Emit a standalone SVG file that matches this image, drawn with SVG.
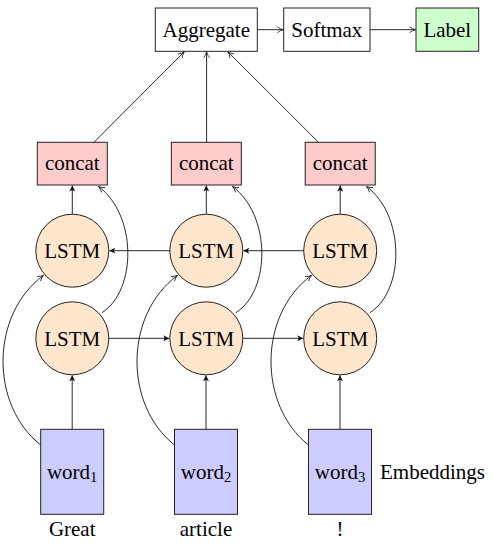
<svg xmlns="http://www.w3.org/2000/svg" width="493" height="545" viewBox="0 0 493 545">
<defs>
<style>
text{font-family:"Liberation Serif","Times New Roman",serif;font-size:21px;fill:#000}
.box{stroke:#222;stroke-width:1}
.ln{fill:none;stroke:#111;stroke-width:0.9}
</style>
<marker id="tri" viewBox="0 0 10 10" refX="10" refY="5" markerWidth="6" markerHeight="6" markerUnits="userSpaceOnUse" orient="auto">
<path d="M0,0 L10,5 L0,10 L2.5,5 Z" fill="#111"/>
</marker>
<marker id="opn" viewBox="0 0 10 10" refX="9.5" refY="5" markerWidth="7" markerHeight="7" markerUnits="userSpaceOnUse" orient="auto">
<path d="M1,0.8 Q5,4 9.5,5 Q5,6 1,9.2" fill="none" stroke="#111" stroke-width="1.1"/>
</marker>
</defs>
<rect width="493" height="545" fill="#fff"/>

<g id="aggregate"><rect class="box" x="155.3" y="8" width="102" height="43.3" fill="#fff"/><text x="206.3" y="36.8" text-anchor="middle">Aggregate</text></g>
<g id="softmax"><rect class="box" x="283.7" y="8" width="86.3" height="43.3" fill="#fff"/><text x="326.8" y="36.8" text-anchor="middle">Softmax</text></g>
<g id="label"><rect class="box" x="416" y="8" width="62.7" height="43.3" fill="#ccffcc"/><text x="447.3" y="36.8" text-anchor="middle">Label</text></g>

<g id="concat1"><rect class="box" x="37.3" y="142.3" width="70" height="42.7" fill="#ffcccc"/><text x="72.3" y="170" text-anchor="middle">concat</text></g>
<g id="concat2"><rect class="box" x="171.3" y="142.3" width="70" height="42.7" fill="#ffcccc"/><text x="206.3" y="170" text-anchor="middle">concat</text></g>
<g id="concat3"><rect class="box" x="305.2" y="142.3" width="70" height="42.7" fill="#ffcccc"/><text x="340.2" y="170" text-anchor="middle">concat</text></g>

<g id="lstm_b1"><circle class="box" cx="72.3" cy="250.7" r="36.5" fill="#ffe6cc"/><text x="72.3" y="258.3" text-anchor="middle">LSTM</text></g>
<g id="lstm_b2"><circle class="box" cx="206.3" cy="250.7" r="36.5" fill="#ffe6cc"/><text x="206.3" y="258.3" text-anchor="middle">LSTM</text></g>
<g id="lstm_b3"><circle class="box" cx="340.2" cy="250.7" r="36.5" fill="#ffe6cc"/><text x="340.2" y="258.3" text-anchor="middle">LSTM</text></g>

<g id="lstm_f1"><circle class="box" cx="72.3" cy="338.3" r="36.5" fill="#ffe6cc"/><text x="72.3" y="345.9" text-anchor="middle">LSTM</text></g>
<g id="lstm_f2"><circle class="box" cx="206.3" cy="338.3" r="36.5" fill="#ffe6cc"/><text x="206.3" y="345.9" text-anchor="middle">LSTM</text></g>
<g id="lstm_f3"><circle class="box" cx="340.2" cy="338.3" r="36.5" fill="#ffe6cc"/><text x="340.2" y="345.9" text-anchor="middle">LSTM</text></g>

<g id="word1"><rect class="box" x="40.7" y="429.3" width="63" height="85" fill="#ccccff"/><text x="72.2" y="478.5" text-anchor="middle">word<tspan font-size="14.7" dy="3">1</tspan></text></g>
<g id="word2"><rect class="box" x="174.5" y="429.3" width="63" height="85" fill="#ccccff"/><text x="206" y="478.5" text-anchor="middle">word<tspan font-size="14.7" dy="3">2</tspan></text></g>
<g id="word3"><rect class="box" x="308.5" y="429.3" width="63" height="85" fill="#ccccff"/><text x="340" y="478.5" text-anchor="middle">word<tspan font-size="14.7" dy="3">3</tspan></text></g>

<g id="labels">
<text x="380" y="478.5">Embeddings</text>
<text x="72.2" y="535.7" text-anchor="middle">Great</text>
<text x="206" y="535.7" text-anchor="middle">article</text>
<text x="340" y="535.7" text-anchor="middle">!</text>
</g>

<g id="connectors">
<line class="ln" x1="257.3" y1="29.7" x2="283.2" y2="29.7" marker-end="url(#opn)"/>
<line class="ln" x1="370" y1="29.7" x2="415.5" y2="29.7" marker-end="url(#opn)"/>
<line class="ln" x1="94" y1="142.3" x2="184.3" y2="51.8" marker-end="url(#opn)"/>
<line class="ln" x1="206.6" y1="142.3" x2="206.6" y2="51.8" marker-end="url(#opn)"/>
<line class="ln" x1="318.5" y1="142.3" x2="227.9" y2="51.8" marker-end="url(#opn)"/>

<line class="ln" x1="72.3" y1="214.2" x2="72.3" y2="185.5" marker-end="url(#tri)"/>
<line class="ln" x1="206.3" y1="214.2" x2="206.3" y2="185.5" marker-end="url(#tri)"/>
<line class="ln" x1="340.2" y1="214.2" x2="340.2" y2="185.5" marker-end="url(#tri)"/>

<line class="ln" x1="169.8" y1="250.7" x2="109.3" y2="250.7" marker-end="url(#tri)"/>
<line class="ln" x1="303.7" y1="250.7" x2="243.3" y2="250.7" marker-end="url(#tri)"/>
<line class="ln" x1="108.8" y1="338.3" x2="169.3" y2="338.3" marker-end="url(#tri)"/>
<line class="ln" x1="242.8" y1="338.3" x2="303.2" y2="338.3" marker-end="url(#tri)"/>

<line class="ln" x1="72.2" y1="429.3" x2="72.2" y2="375.3" marker-end="url(#tri)"/>
<line class="ln" x1="206" y1="429.3" x2="206" y2="375.3" marker-end="url(#tri)"/>
<line class="ln" x1="340" y1="429.3" x2="340" y2="375.3" marker-end="url(#tri)"/>

<path class="ln" d="M40.7,445 C-10,405 -10,315 43.5,275.3" marker-end="url(#opn)"/>
<path class="ln" d="M174.5,445 C124,405 124,315 177.5,275.3" marker-end="url(#opn)"/>
<path class="ln" d="M308.5,445 C258,405 258,315 311.5,275.3" marker-end="url(#opn)"/>

<path class="ln" d="M102,312.7 C137,290 137,215 98.5,186.5" marker-end="url(#opn)"/>
<path class="ln" d="M236,312.7 C271,290 271,215 232.5,186.5" marker-end="url(#opn)"/>
<path class="ln" d="M370,312.7 C405,290 405,215 366.5,186.5" marker-end="url(#opn)"/>
</g>
</svg>
